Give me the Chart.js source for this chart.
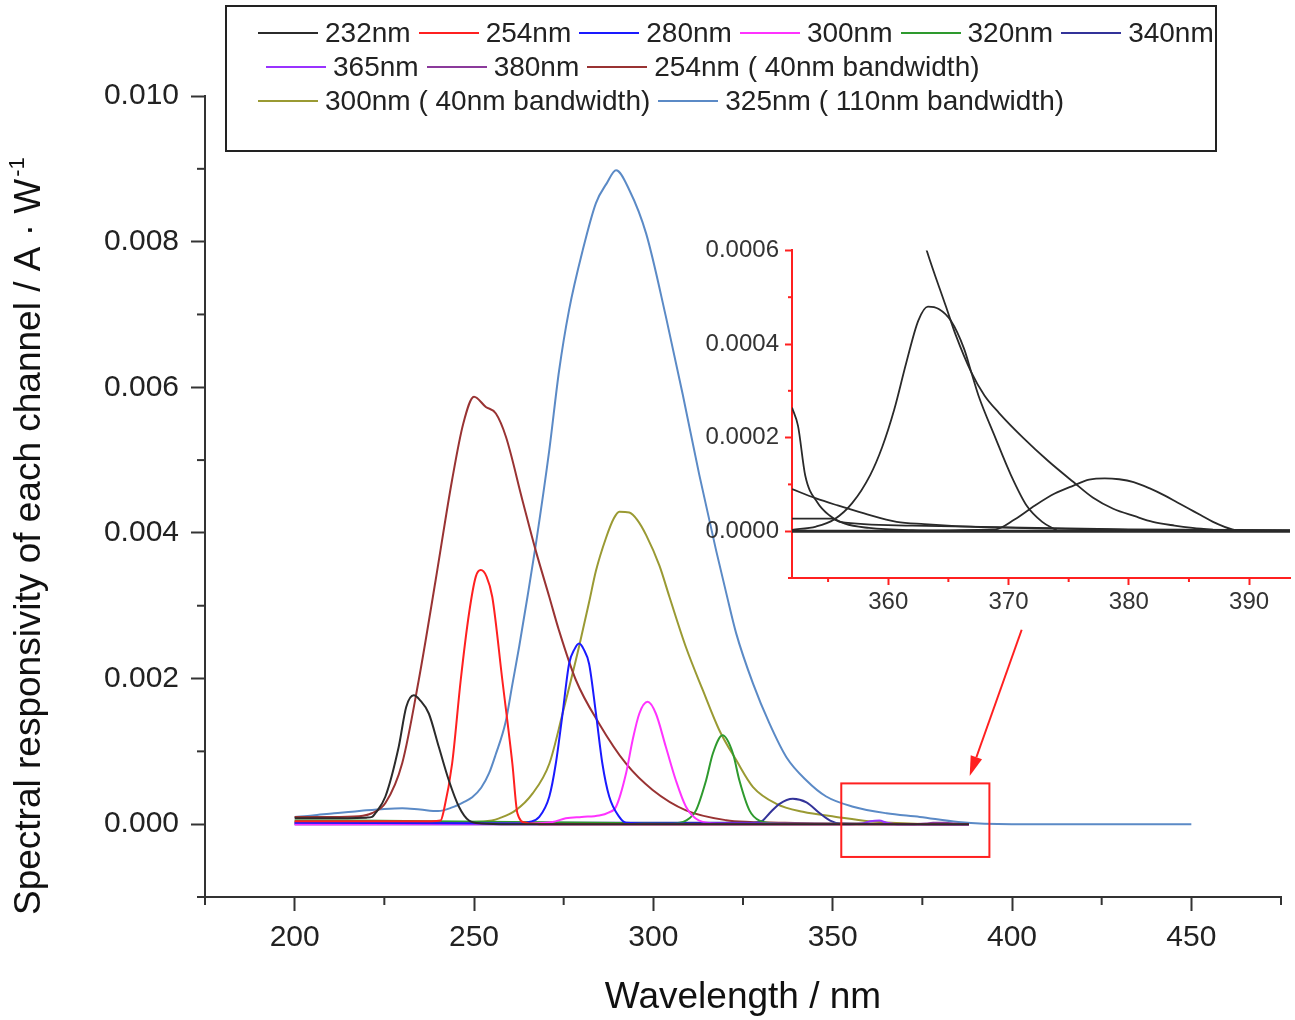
<!DOCTYPE html>
<html lang="en">
<head>
<meta charset="UTF-8" />
<title>Spectral responsivity of each channel</title>
<script src="https://cdn.jsdelivr.net/npm/chart.js"></script>
<style>
  body { margin: 0; background: #fff; }
  #wrap { position: relative; width: 1295px; height: 1020px; font-family: "Liberation Sans", Arial, sans-serif; }
  #main { position: absolute; left: 0; top: 0; }
  #inset { position: absolute; left: 680px; top: 230px; }
  #legend { position: absolute; left: 225px; top: 5px; width: 988px; height: 143px; border: 2px solid #222; background: #fff; }
  .row { position: absolute; display: flex; align-items: center; height: 30px; }
  .item { display: flex; align-items: center; margin-right: 8px; }
  .swatch { width: 60px; height: 2px; margin-right: 7px; }
  .txt { font-size: 28px; color: #222; white-space: nowrap; }
</style>
</head>
<body>
<div id="wrap">
  <canvas id="main" width="1295" height="1020"></canvas>
  <canvas id="inset" width="615" height="400"></canvas>
  <div id="legend"></div>
</div>

<script>
// ---- main chart data (wavelength nm / responsivity A/W) ----
const labels = ['232nm', '254nm', '280nm', '300nm', '320nm', '340nm', '365nm', '380nm',
  '254nm ( 40nm bandwidth)', '300nm ( 40nm bandwidth)', '325nm ( 110nm bandwidth)'];
const colors = ['#2b2b2b', '#ff2020', '#1a1aff', '#ff33ff', '#2e9a2e', '#333399', '#9933ff', '#8b3a9b',
  '#993333', '#9a9a33', '#5b8ac6'];

const x232 = [200, 210, 220, 221.6, 222.5, 225.3, 229, 231.1, 233.2, 235, 237.4, 240.2, 243, 245.8, 248.6, 252, 260, 300, 388];
const y232 = [0.00008, 0.00008, 0.00009, 0.0001, 0.00015, 0.00038, 0.00106, 0.00161, 0.00177, 0.0017, 0.00152, 0.00106, 0.0006, 0.00024, 0.00005, 0.00001, 0, 0, 0];

const x254 = [200, 238, 240.7, 241.6, 243.9, 246.3, 248.6, 250.5, 251.9, 253.5, 255.1, 257.9, 260.7, 262.1, 264.4, 270, 388];
const y254 = [0.00004, 0.00004, 0.00005, 0.00019, 0.00083, 0.00198, 0.00289, 0.0034, 0.00349, 0.0034, 0.00312, 0.00198, 0.00083, 0.00015, 0.00002, 0, 0];

const x280 = [200, 263, 265.4, 268.2, 271, 272.8, 274.7, 276.5, 278, 279.3, 280.6, 282.1, 284, 285.8, 287.7, 290.5, 292.4, 300, 388];
const y280 = [0.00002, 0.00001, 0.00003, 0.0001, 0.00038, 0.00083, 0.00152, 0.0022, 0.0024, 0.00248, 0.0024, 0.0022, 0.00152, 0.00083, 0.00038, 0.0001, 0.00002, 0.00001, 0];

const x300 = [200, 265, 271.9, 275.6, 280, 284.9, 287.5, 289.6, 292.4, 294.2, 296.1, 298.4, 300.7, 303.5, 306.3, 309.1, 312.8, 318, 388];
const y300 = [0, 0.00001, 0.00003, 0.00008, 0.0001, 0.00012, 0.00016, 0.00024, 0.0007, 0.00115, 0.00152, 0.00168, 0.00152, 0.00106, 0.0006, 0.00024, 0.00005, 0.00001, 0];

const x320 = [200, 216, 305, 309.1, 311.9, 314.7, 316.6, 319.3, 322.2, 324, 326.8, 329.6, 335, 388];
const y320 = [0.00005, 0.00005, 0.00001, 0.00005, 0.00019, 0.0006, 0.00097, 0.00122, 0.00097, 0.0006, 0.00019, 0.00005, 0.00001, 0];

const x340 = [200, 328, 330.5, 332.4, 335.2, 338.9, 342.7, 346.4, 349.3, 352, 388];
const y340 = [0.00002, 0.00002, 0.00005, 0.00015, 0.00028, 0.00035, 0.0003, 0.00015, 0.00005, 0.00001, 0];

const x365 = [200, 355, 358, 360.5, 363, 365, 368, 388];
const y365 = [0, 0, 0.00001, 0.00004, 0.00005, 0.00002, 0, 0];

const x380 = [200, 372, 376, 378, 381, 384, 386.5];
const y380 = [0, 0, 0.00001, 0.00002, 0.00002, 0.00001, 0];

const x254bw = [200, 210, 218, 221.5, 225.3, 230, 234.6, 239.3, 243.9, 247, 250, 253.3, 256.1, 258.9, 263.5, 267.2, 271, 273.7, 278.4, 284.9, 292.4, 299.8, 309.1, 320.3, 327, 335, 345, 388];
const y254bw = [0.0001, 0.0001, 0.00011, 0.00015, 0.00029, 0.00084, 0.00198, 0.00335, 0.00473, 0.0055, 0.00587, 0.00573, 0.00564, 0.00532, 0.00445, 0.00376, 0.00312, 0.00266, 0.00198, 0.00138, 0.00083, 0.00047, 0.00019, 0.000055, 0.00003, 0.00002, 0.00001, 0];

const x300bw = [200, 230, 250, 255, 257, 261.6, 266.3, 271, 274.7, 279.3, 282.1, 284, 286.8, 289, 290.5, 293.3, 295.5, 298, 301.7, 304.5, 309.1, 313.8, 318.4, 323.1, 327.8, 334.3, 341.7, 351, 360, 377];
const y300bw = [0.00003, 0.00003, 0.00003, 0.00005, 0.00008, 0.00019, 0.00042, 0.00083, 0.00152, 0.00244, 0.00305, 0.00348, 0.00393, 0.0042, 0.00429, 0.00428, 0.00418, 0.00397, 0.00355, 0.00312, 0.00243, 0.00184, 0.00129, 0.00088, 0.00051, 0.00028, 0.00017, 0.0001, 0.00004, 0];

const x325bw = [200, 205, 211, 216, 220, 225, 230, 235, 240, 243.9, 247, 249.5, 252, 254.2, 256, 258.8, 260.7, 262.6, 264.9, 267.2, 271, 273.7, 276.5, 280.3, 284, 287, 289.6, 293.3, 298, 303.5, 308.2, 312.8, 317.5, 320.3, 323.1, 327.8, 332.4, 337.1, 342.7, 348.2, 355.7, 365, 374.3, 385, 400, 450];
const y325bw = [0.0001, 0.00012, 0.00015, 0.00017, 0.00019, 0.00021, 0.00022, 0.0002, 0.00018, 0.00023, 0.0003, 0.00037, 0.0005, 0.0007, 0.00095, 0.0014, 0.00192, 0.00244, 0.00312, 0.00383, 0.00514, 0.00622, 0.00706, 0.00788, 0.00853, 0.0088, 0.00898, 0.00871, 0.00811, 0.00697, 0.0059, 0.0048, 0.00376, 0.00318, 0.00262, 0.00193, 0.00138, 0.00092, 0.0006, 0.00038, 0.00024, 0.00015, 0.0001, 0.00003, 0, 0];

const seriesX = [x232, x254, x280, x300, x320, x340, x365, x380, x254bw, x300bw, x325bw];
const seriesY = [y232, y254, y280, y300, y320, y340, y365, y380, y254bw, y300bw, y325bw];

// ---- inset (352-393 nm zoom) ----
const insX365 = [352, 354, 355.5, 357, 358.5, 359.5, 360.5, 361.5, 362.5, 363.3, 364.2, 365.2, 366.3, 366.9, 367.5, 368.9, 370.2, 371.5, 372.8, 374];
const insY365 = [0.000003, 0.00001, 0.000025, 0.00006, 0.00012, 0.00018, 0.00026, 0.00036, 0.00045, 0.00048, 0.000475, 0.00045, 0.00039, 0.00034, 0.00029, 0.0002, 0.00012, 0.000055, 0.00002, 0.000002];
const insXtail = [361.5, 363.2, 364.8, 365.6, 366.9, 368, 369.2, 371.2, 373.3, 375.4, 377, 378.7, 380.5, 382, 383.8, 385.3, 387, 388.6, 390];
const insYtail = [0.00075, 0.0006, 0.00048, 0.00042, 0.00034, 0.00029, 0.000253, 0.0002, 0.00015, 0.000105, 0.000072, 0.000048, 0.000032, 0.00002, 0.000012, 0.000007, 0.000003, 0, 0];
const insX380 = [352, 368.9, 370.5, 372.2, 373.8, 375.4, 376.7, 378, 379.2, 380.4, 381.7, 383, 384, 385, 386, 387, 388.6, 390];
const insY380 = [0, 0.000004, 0.000025, 0.000055, 0.00008, 0.0000975, 0.00011, 0.000113, 0.000111, 0.000105, 0.000092, 0.000076, 0.000062, 0.000048, 0.000034, 0.00002, 0.000004, 0];
const insXsteep = [352, 352.5, 353.1, 354.1, 355.1, 356.4, 358.4, 362, 370];
const insYsteep = [0.000264, 0.000225, 0.000119, 0.000062, 0.000034, 0.000016, 0.000007, 0.000002, 0];
const insXslope = [352, 354, 355.8, 358, 360.7, 363, 365.6, 369, 372.2, 380, 393.4];
const insYslope = [0.00009, 0.00007, 0.000055, 0.000038, 0.00002, 0.000015, 0.000011, 0.000008, 0.000006, 0.000003, 0.000001];
const insXflat = [352, 355.3, 356, 362, 370, 380, 393.4];
const insYflat = [0.000027, 0.000027, 0.00002, 0.000012, 0.000008, 0.000004, 0.000002];
const insXzero = [352, 393.4];
const insYzero = [0, 0];

const insetX = [insX365, insXtail, insX380, insXsteep, insXslope, insXflat, insXzero];
const insetY = [insY365, insYtail, insY380, insYsteep, insYslope, insYflat, insYzero];

// zoom box + arrow (in main chart data units)
const zoomBoxX = [352.4, 393.7];
const zoomBoxY = [-0.00045, 0.00056];
const arrowFrom = [402.7, 0.00267];
const arrowTo = [388.2, 0.00066];

const yTitle = 'Spectral responsivity of each channel / A · W';
const yTitleSup = '-1';
const xTitle = 'Wavelength / nm';

Chart.defaults.font.family = '"Liberation Sans", Arial, sans-serif';
Chart.defaults.color = '#222';

function pts(xs, ys) {
  return xs.map((x, i) => ({ x: x, y: ys[i] }));
}

const axisColor = '#333';
const isMajorX = v => Math.round(v) % 50 === 0;
const isMajorY = v => Math.round(v * 1000) % 2 === 0;
const isMajorIX = v => Math.round(v) % 10 === 0;
const isMajorIY = v => Math.round(v * 10000) % 2 === 0;

function minorTicks(ctx, scale, isMajor, len, color) {
  ctx.strokeStyle = color;
  ctx.lineWidth = 2;
  scale.ticks.forEach(t => {
    if (isMajor(t.value)) return;
    const p = scale.getPixelForValue(t.value);
    ctx.beginPath();
    if (scale.isHorizontal()) { ctx.moveTo(p, scale.top); ctx.lineTo(p, scale.top + len); }
    else { ctx.moveTo(scale.right, p); ctx.lineTo(scale.right - len, p); }
    ctx.stroke();
  });
}

const mainExtras = {
  id: 'mainExtras',
  afterDraw(chart) {
    const ctx = chart.ctx;
    const sx = chart.scales.x, sy = chart.scales.y;
    ctx.save();
    minorTicks(ctx, sx, isMajorX, 8, axisColor);
    minorTicks(ctx, sy, isMajorY, 8, axisColor);

    // red zoom box
    ctx.strokeStyle = '#ff2020';
    ctx.lineWidth = 2;
    const bx0 = sx.getPixelForValue(zoomBoxX[0]), bx1 = sx.getPixelForValue(zoomBoxX[1]);
    const by0 = sy.getPixelForValue(zoomBoxY[1]), by1 = sy.getPixelForValue(zoomBoxY[0]);
    ctx.strokeRect(bx0, by0, bx1 - bx0, by1 - by0);

    // arrow
    const ax0 = sx.getPixelForValue(arrowFrom[0]), ay0 = sy.getPixelForValue(arrowFrom[1]);
    const ax1 = sx.getPixelForValue(arrowTo[0]), ay1 = sy.getPixelForValue(arrowTo[1]);
    const ang = Math.atan2(ay1 - ay0, ax1 - ax0);
    const hl = 20, hw = 6;
    const bxh = ax1 - hl * Math.cos(ang), byh = ay1 - hl * Math.sin(ang);
    ctx.beginPath();
    ctx.moveTo(ax0, ay0);
    ctx.lineTo(bxh, byh);
    ctx.stroke();
    ctx.fillStyle = '#ff2020';
    ctx.beginPath();
    ctx.moveTo(ax1, ay1);
    ctx.lineTo(bxh + hw * Math.sin(ang), byh - hw * Math.cos(ang));
    ctx.lineTo(bxh - hw * Math.sin(ang), byh + hw * Math.cos(ang));
    ctx.closePath();
    ctx.fill();

    // rotated y title with superscript
    ctx.translate(40, 915);
    ctx.rotate(-Math.PI / 2);
    ctx.fillStyle = '#111';
    ctx.textAlign = 'left';
    ctx.textBaseline = 'alphabetic';
    ctx.font = '37px "Liberation Sans", Arial, sans-serif';
    ctx.fillText(yTitle, 0, 0);
    const w = ctx.measureText(yTitle).width;
    ctx.font = '22px "Liberation Sans", Arial, sans-serif';
    ctx.fillText(yTitleSup, w + 2, -16);
    ctx.restore();
  }
};

const mainChart = new Chart(document.getElementById('main'), {
  type: 'line',
  data: {
    datasets: labels.map((lab, i) => ({
      label: lab,
      data: pts(seriesX[i], seriesY[i]),
      borderColor: colors[i],
      borderWidth: 2,
      pointRadius: 0,
      fill: false,
      cubicInterpolationMode: 'monotone'
    }))
  },
  options: {
    responsive: false,
    animation: false,
    layout: { padding: { top: 96, right: 14, left: 0, bottom: 0 } },
    plugins: { legend: { display: false }, tooltip: { enabled: false } },
    scales: {
      x: {
        type: 'linear', min: 175, max: 475,
        afterFit: s => { s.height = 123; },
        border: { color: axisColor, width: 2 },
        grid: { drawOnChartArea: false, tickLength: 14, tickWidth: 2,
          tickColor: c => (c.tick && isMajorX(c.tick.value)) ? axisColor : 'rgba(0,0,0,0)' },
        ticks: { stepSize: 25, autoSkip: false, maxRotation: 0, padding: 9, color: '#222',
          font: { size: 30 },
          callback: v => isMajorX(v) ? String(Math.round(v)) : '' },
        title: { display: true, text: xTitle, color: '#111', font: { size: 37 }, padding: { top: 0, bottom: 0 } }
      },
      y: {
        min: -0.001, max: 0.010,
        afterFit: s => { s.width = 205; },
        border: { color: axisColor, width: 2 },
        grid: { drawOnChartArea: false, tickLength: 14, tickWidth: 2,
          tickColor: c => (c.tick && isMajorY(c.tick.value)) ? axisColor : 'rgba(0,0,0,0)' },
        ticks: { stepSize: 0.001, autoSkip: false, padding: 12, color: '#222',
          font: { size: 30 },
          callback: v => (isMajorY(v) && v > -0.0005) ? (Math.round(v * 1000) / 1000).toFixed(3) : '' }
      }
    }
  },
  plugins: [mainExtras]
});

// ---- inset chart ----
const insetRed = '#ff2020';
const insetExtras = {
  id: 'insetExtras',
  afterDraw(chart) {
    const ctx = chart.ctx;
    ctx.save();
    minorTicks(ctx, chart.scales.x, isMajorIX, 4, insetRed);
    minorTicks(ctx, chart.scales.y, isMajorIY, 4, insetRed);
    ctx.restore();
  }
};

new Chart(document.getElementById('inset'), {
  type: 'line',
  data: {
    datasets: insetX.map((xs, i) => ({
      data: pts(xs, insetY[i]),
      borderColor: '#2a2a2a',
      borderWidth: i === insetX.length - 1 ? 3 : 1.8,
      pointRadius: 0,
      fill: false,
      cubicInterpolationMode: 'monotone'
    }))
  },
  options: {
    responsive: false,
    animation: false,
    layout: { padding: { top: 20, right: 5, left: 0, bottom: 0 } },
    plugins: { legend: { display: false }, tooltip: { enabled: false } },
    scales: {
      x: {
        type: 'linear', min: 352, max: 393.4,
        afterFit: s => { s.height = 52; },
        border: { color: insetRed, width: 2 },
        grid: { drawOnChartArea: false, tickLength: 7, tickWidth: 2,
          tickColor: c => (c.tick && isMajorIX(c.tick.value)) ? insetRed : 'rgba(0,0,0,0)' },
        ticks: { stepSize: 5, includeBounds: false, autoSkip: false, maxRotation: 0, padding: 3, color: '#333',
          font: { size: 24 },
          callback: v => isMajorIX(v) ? String(Math.round(v)) : '' }
      },
      y: {
        min: -0.0001, max: 0.0006,
        afterFit: s => { s.width = 112; },
        border: { color: insetRed, width: 2 },
        grid: { drawOnChartArea: false, tickLength: 7, tickWidth: 2,
          tickColor: c => (c.tick && isMajorIY(c.tick.value)) ? insetRed : 'rgba(0,0,0,0)' },
        ticks: { stepSize: 0.0001, autoSkip: false, padding: 6, color: '#333',
          font: { size: 24 },
          callback: v => (isMajorIY(v) && v > -0.00005) ? (Math.round(v * 10000) / 10000).toFixed(4) : '' }
      }
    }
  },
  plugins: [insetExtras]
});

// ---- legend box built from the main chart datasets ----
const legendRows = [[0, 1, 2, 3, 4, 5], [6, 7, 8], [9, 10]];
const rowLeft = [31, 39, 31];
const rowTop = [11, 45, 79];
const legendEl = document.getElementById('legend');
legendRows.forEach((row, r) => {
  const rowEl = document.createElement('div');
  rowEl.className = 'row';
  rowEl.style.left = rowLeft[r] + 'px';
  rowEl.style.top = rowTop[r] + 'px';
  row.forEach(i => {
    const ds = mainChart.data.datasets[i];
    const item = document.createElement('div');
    item.className = 'item';
    const sw = document.createElement('span');
    sw.className = 'swatch';
    sw.style.background = ds.borderColor;
    const tx = document.createElement('span');
    tx.className = 'txt';
    tx.textContent = ds.label;
    item.appendChild(sw);
    item.appendChild(tx);
    rowEl.appendChild(item);
  });
  legendEl.appendChild(rowEl);
});
</script>
</body>
</html>
